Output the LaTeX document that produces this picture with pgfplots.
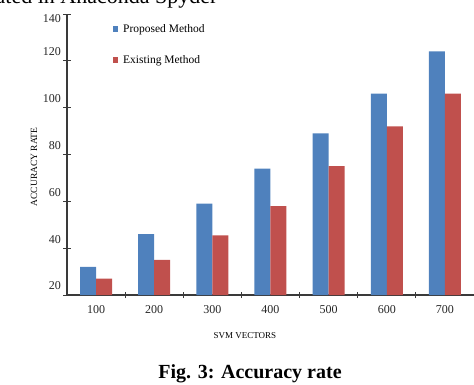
\documentclass[border=0pt]{standalone}
\usepackage{pgfplots}
\pgfplotsset{compat=1.18}
\usepackage{fontspec}
\setmainfont{Liberation Serif}
\definecolor{propblue}{HTML}{4F81BD}
\definecolor{exred}{HTML}{C0504D}
\definecolor{axgray}{HTML}{3A3A3A}
\begin{document}
\begin{tikzpicture}[x=1pt,y=1pt]
\useasboundingbox (0,0) rectangle (474,384);
\clip (0,0) rectangle (474,384);
\node[anchor=base east,font=\fontsize{22}{24}\selectfont] at (221,380.5) {ated in Anaconda Spyder};
\begin{axis}[
  at={(67pt,89pt)}, anchor=south west,
  scale only axis, width=407pt, height=281pt,
  xmin=-0.5, xmax=6.5, ymin=20, ymax=140,
  axis x line*=bottom, axis y line*=left,
  axis line style={axgray, line width=1.6pt},
  ybar=0pt, bar width=16pt,
  xtick={0,...,6},
  xticklabels={100,200,300,400,500,600,700},
  minor xtick={0.5,1.5,...,5.5},
  major x tick style={draw=none},
  minor x tick style={draw=axgray, line width=0.8pt},
  minor tick length=6pt,
  ytick={20,40,...,120},
  extra y ticks={140},
  extra y tick style={yticklabel style={yshift=-14pt}},
  tick align=center, major tick length=7pt,
  major y tick style={draw=axgray, line width=1pt},
  /pgf/number format/assume math mode=true,
  ticklabel style={font=\fontsize{12}{14}\selectfont, text=black!85},
  yticklabel style={yshift=9pt, xshift=1pt},
  xticklabel style={yshift=-3pt},
  ylabel={ACCURACY RATE},
  ylabel style={at={(axis description cs:-0.081,0.456)}, anchor=center, rotate=0, font=\fontsize{9.5}{11}\selectfont},
  xlabel={SVM VECTORS},
  xlabel style={at={(axis description cs:0.437,-0.146)}, anchor=center, font=\fontsize{9}{10}\selectfont},
  legend style={at={(axis description cs:0.113,0.972)}, anchor=north west, draw=none, fill=none,
    font=\fontsize{11.5}{13}\selectfont, row sep=18pt, inner sep=0pt,
    /tikz/every odd column/.append style={column sep=3pt}},
  legend cell align=left,
  legend image code/.code={\fill[#1] (0pt,-3pt) rectangle (5pt,3pt);},
]
\addplot[fill=propblue, draw=none] coordinates {(0,32) (1,46) (2,59) (3,74) (4,89) (5,106) (6,124)};
\addplot[fill=exred, draw=none] coordinates {(0,27) (1,35) (2,45.5) (3,58) (4,75) (5,92) (6,106)};
\legend{Proposed Method, Existing Method}
\end{axis}
\node[anchor=base, font=\bfseries\fontsize{20}{22}\selectfont] at (250,6) {Fig. 3: Accuracy rate};
\end{tikzpicture}
\end{document}
